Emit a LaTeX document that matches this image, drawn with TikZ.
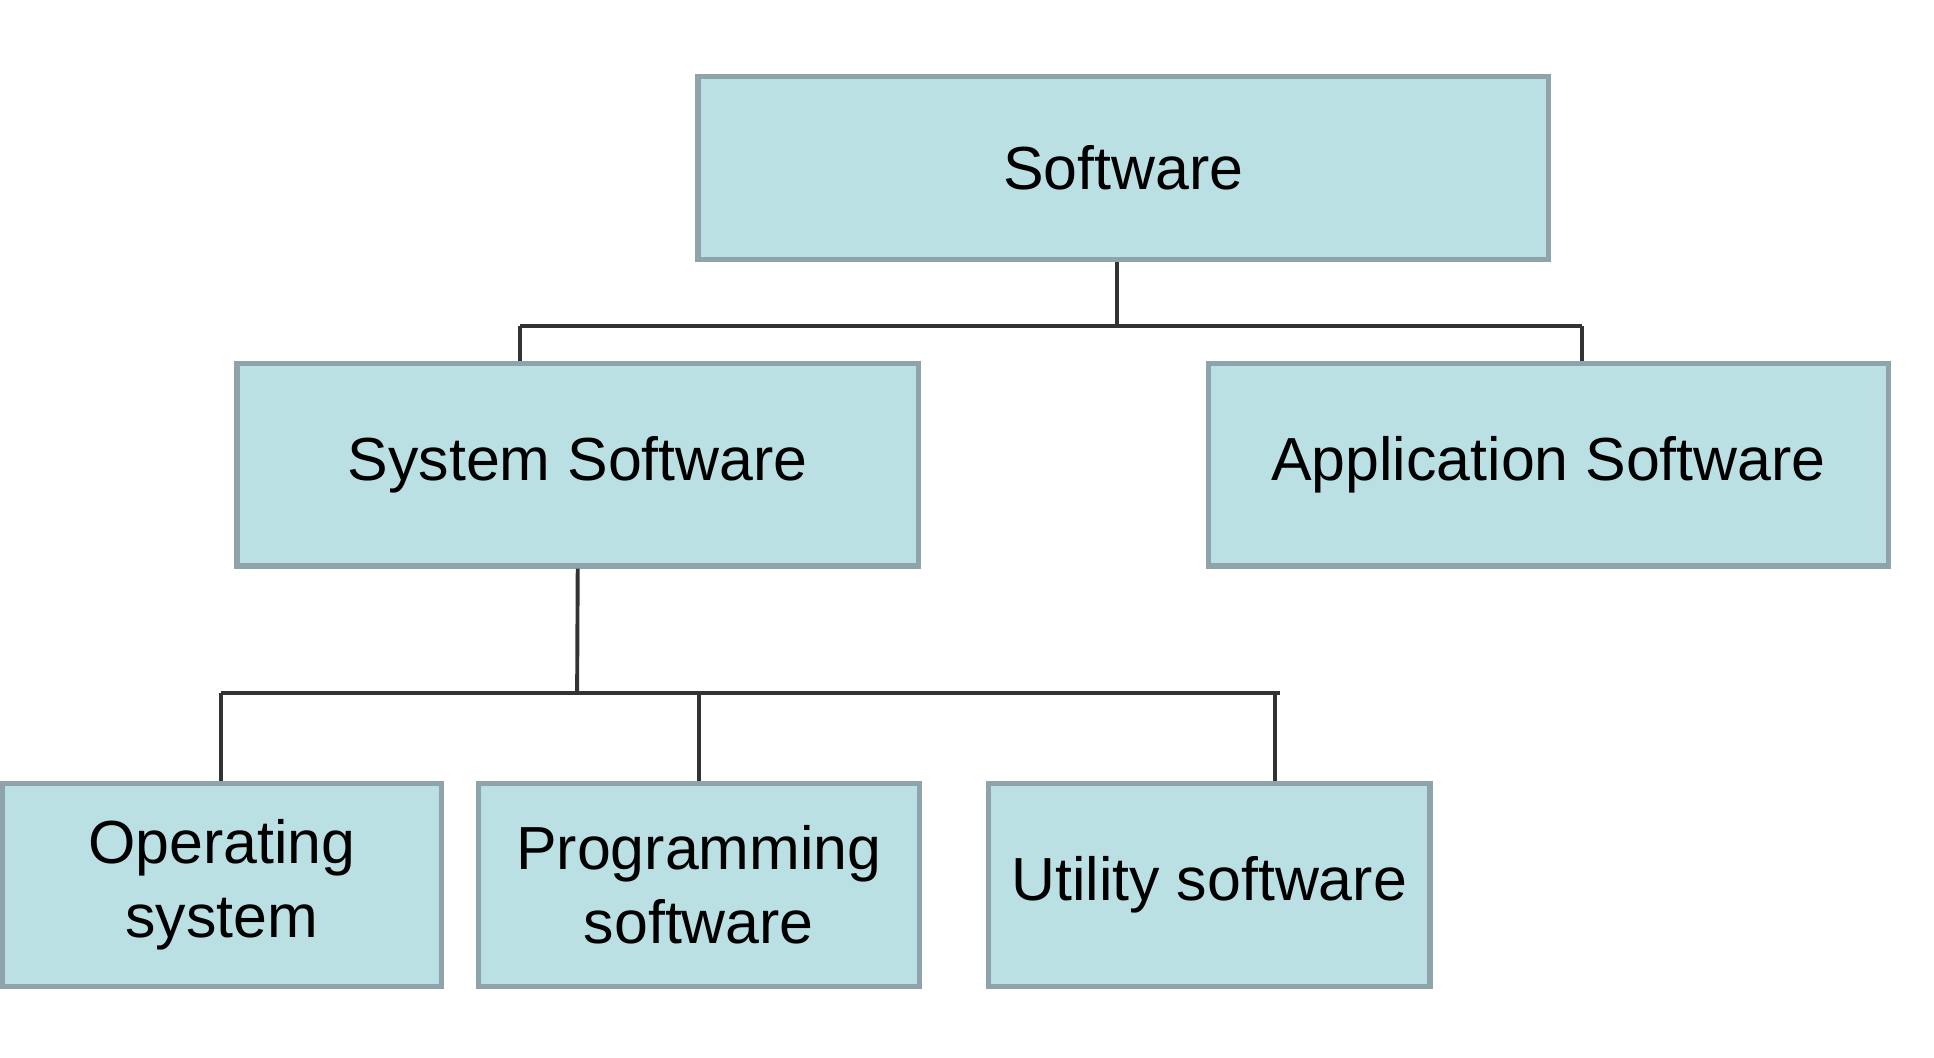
\documentclass[tikz,border=0pt]{standalone}
\usepackage{fontspec}
\setmainfont{Liberation Sans}
\definecolor{boxfill}{HTML}{BBE0E3}
\definecolor{boxline}{HTML}{8FA3AA}
\tikzset{
  box/.style={draw=boxline,fill=boxfill,line width=1.2pt,rectangle,align=center,
    font=\fontsize{14}{17}\selectfont,inner sep=0pt},
  link/.style={line width=0.9pt,black!80}
}
\begin{document}
\begin{tikzpicture}[x=0.01cm,y=-0.01cm]
  \useasboundingbox (0,0) rectangle (1565,856);

  \node[box,minimum width=6.88cm,minimum height=1.48cm] (SW) at (909,136) {Software};
  \node[box,minimum width=5.51cm,minimum height=1.64cm] (Sys) at (467.5,376) {System Software};
  \node[box,minimum width=5.50cm,minimum height=1.64cm] (App) at (1253,376) {Application Software};
  \node[box,minimum width=3.55cm,minimum height=1.64cm] (OS) at (179.5,716) {Operating\\system};
  \node[box,minimum width=3.57cm,minimum height=1.64cm] (Prog) at (565.5,716) {Programming\\software};
  \node[box,minimum width=3.57cm,minimum height=1.64cm] (Util) at (978.5,716) {Utility software};

  \coordinate (t1) at (904,264);
  \coordinate (t2) at (467,561);

  \draw[link] (904,0 |- SW.south) -- (t1);
  \draw[link] (421,264) -- (1280,264);
  \draw[link] (421,264) -- (421,0 |- Sys.north);
  \draw[link] (1280,264) -- (1280,0 |- App.north);

  \draw[link] (Sys.south) -- (t2);
  \draw[link] (179,561) -- (1036,561);
  \draw[link] (179,561) -- (179,0 |- OS.north);
  \draw[link] (566,561) -- (566,0 |- Prog.north);
  \draw[link] (1032,561) -- (1032,0 |- Util.north);
\end{tikzpicture}
\end{document}
